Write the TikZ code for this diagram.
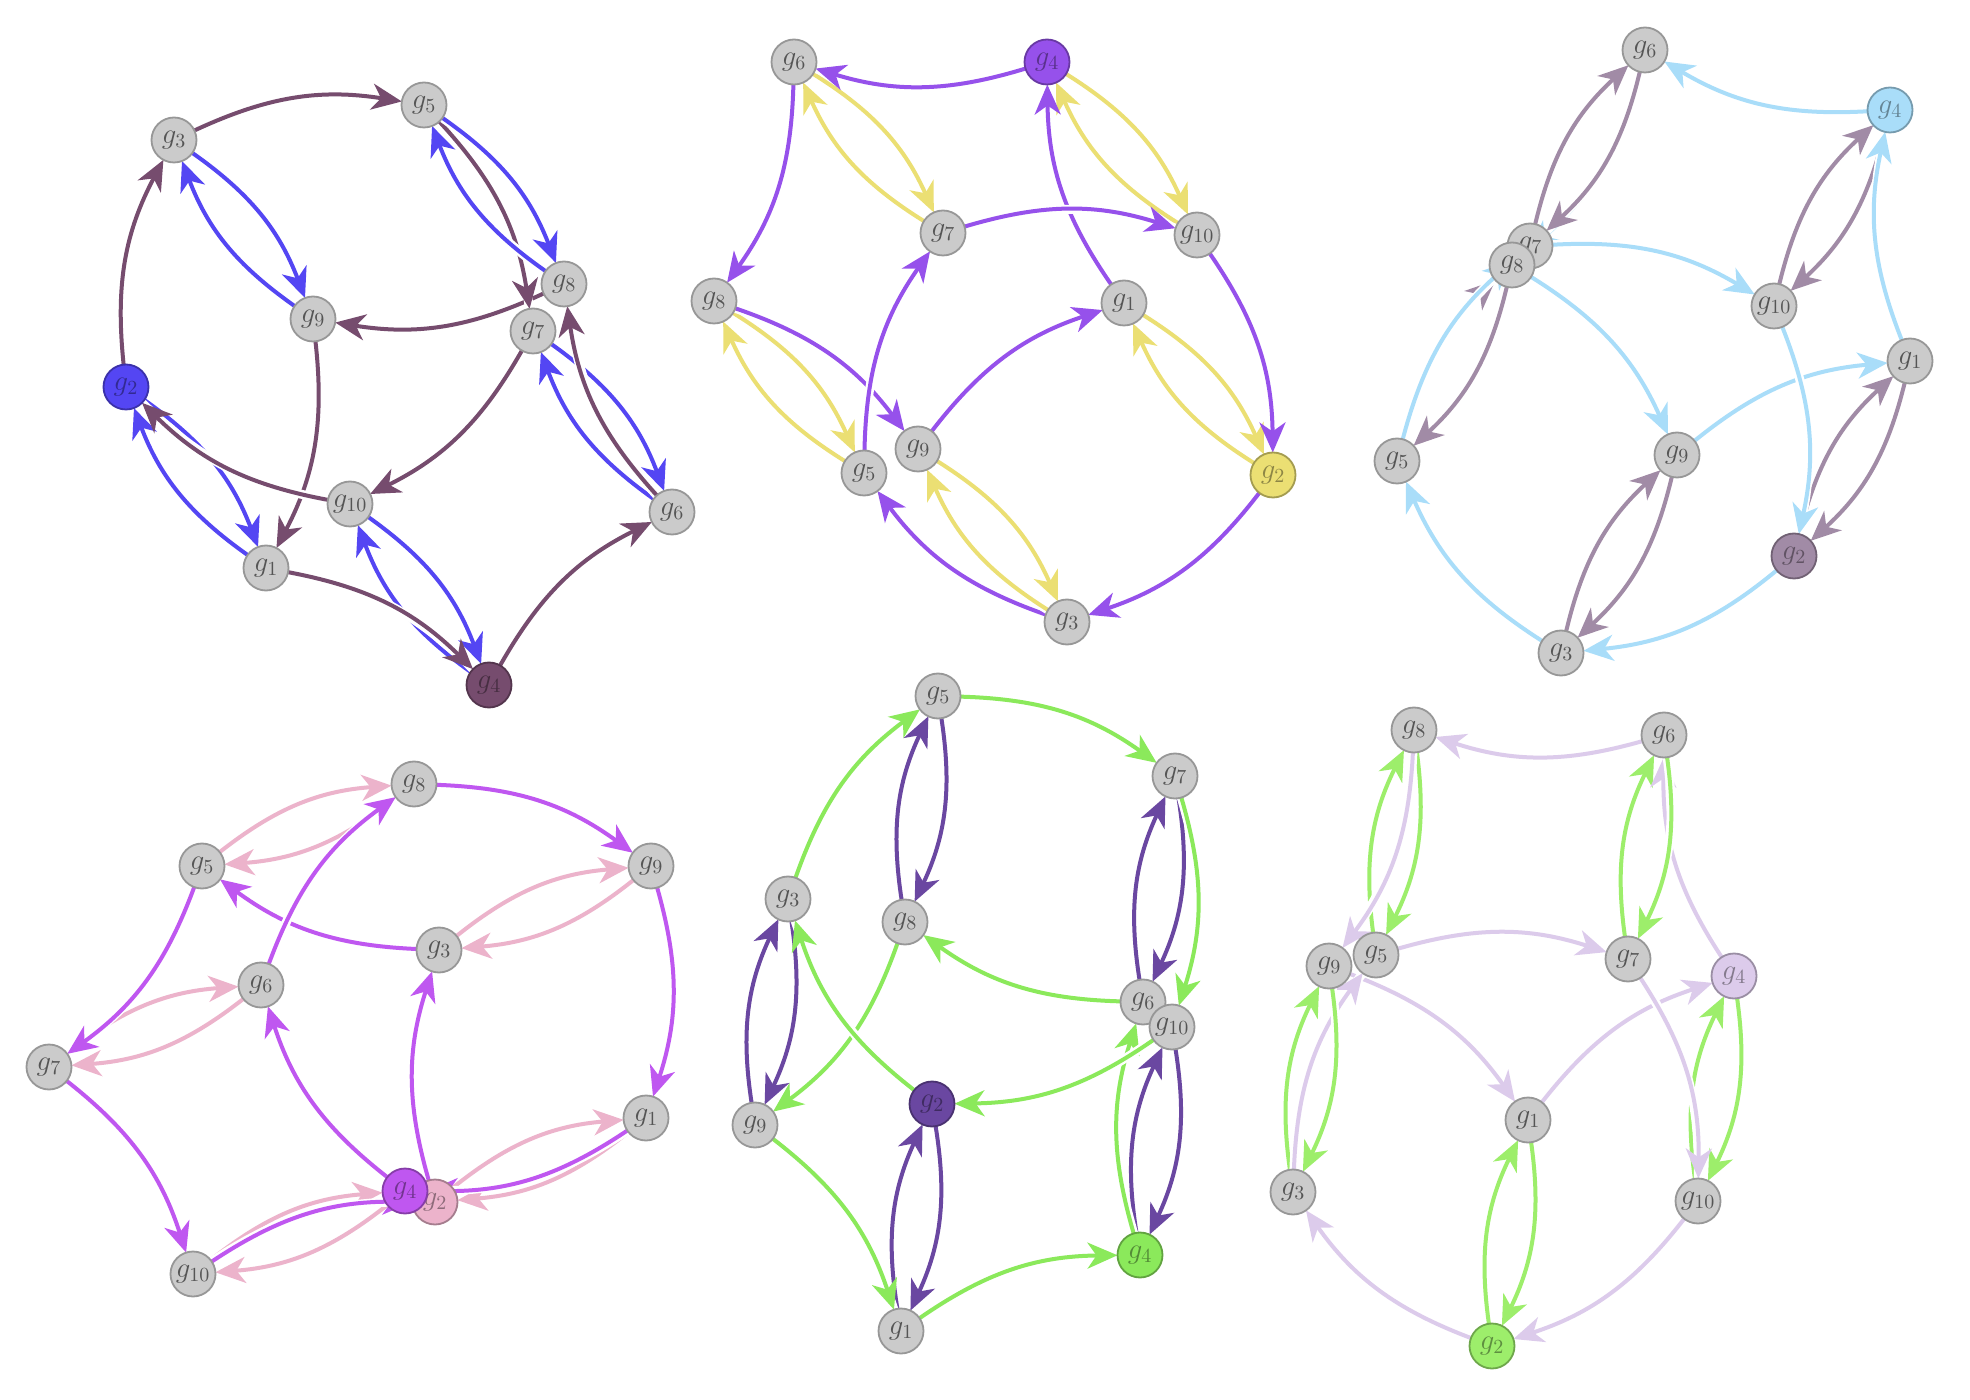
\documentclass[tikz,border=0pt]{standalone}
\usetikzlibrary{arrows.meta}
\pgfdeclarelayer{bg}
\pgfsetlayers{bg,main}
\definecolor{vfill}{HTML}{CBCBCB}
\definecolor{vdraw}{HTML}{979797}
\definecolor{vtext}{HTML}{555555}
\definecolor{Ra}{HTML}{764C6E}\definecolor{Sa}{HTML}{5446F3}
\definecolor{Rb}{HTML}{9651EB}\definecolor{Sb}{HTML}{EBDF73}
\definecolor{Rc}{HTML}{A9DDF9}\definecolor{Sc}{HTML}{A18BA6}
\definecolor{Rd}{HTML}{BF57F0}\definecolor{Sd}{HTML}{ECB3CB}
\definecolor{Re}{HTML}{8BE95B}\definecolor{Se}{HTML}{6A47A1}
\definecolor{Rf}{HTML}{DCCBEB}\definecolor{Sf}{HTML}{9DEE6B}
\tikzset{
  v/.style={circle, draw=vdraw, fill=vfill, line width=0.9pt, minimum size=22.5pt,
    inner sep=0pt, outer sep=0pt, text=vtext, font=\fontsize{14.4}{17}\selectfont},
  hl/.style={fill=#1, draw=#1!70!black, text=#1!60!black},
  e/.style={draw=#1, line width=2pt, bend left=17,
    -{Stealth[length=15pt,width=13pt,inset=4.5pt,fill=#1]},
    preaction={draw=white, line width=4.5pt, -}}
}
\newcommand\pe[3]{\draw[e=#1] (#2) to (#3);}
\begin{document}
\begin{tikzpicture}[x=0.5pt,y=-0.5pt]
\useasboundingbox (0,0) rectangle (1970,1400);
% ---------- panel 1
\node[v] (a1) at (266,568) {$g_{1}$};
\node[v,hl=Sa] (a2) at (126,387) {$g_{2}$};
\node[v] (a3) at (174,140) {$g_{3}$};
\node[v,hl=Ra] (a4) at (489,685) {$g_{4}$};
\node[v] (a5) at (424,105) {$g_{5}$};
\node[v] (a6) at (672,512) {$g_{6}$};
\node[v] (a7) at (533,331) {$g_{7}$};
\node[v] (a8) at (564,284) {$g_{8}$};
\node[v] (a9) at (313,319) {$g_{9}$};
\node[v] (a10) at (350,504) {$g_{10}$};
% ---------- panel 2
\node[v] (b1) at (1124,303) {$g_{1}$};
\node[v,hl=Sb] (b2) at (1273,475) {$g_{2}$};
\node[v] (b3) at (1067,622) {$g_{3}$};
\node[v,hl=Rb] (b4) at (1047,62) {$g_{4}$};
\node[v] (b5) at (864,473) {$g_{5}$};
\node[v] (b6) at (794,62) {$g_{6}$};
\node[v] (b7) at (943,233) {$g_{7}$};
\node[v] (b8) at (714,301) {$g_{8}$};
\node[v] (b9) at (918,449) {$g_{9}$};
\node[v] (b10) at (1197,235) {$g_{10}$};
% ---------- panel 3
\node[v] (c1) at (1910,361) {$g_{1}$};
\node[v,hl=Sc] (c2) at (1794,556) {$g_{2}$};
\node[v] (c3) at (1561,653) {$g_{3}$};
\node[v,hl=Rc] (c4) at (1890,110) {$g_{4}$};
\node[v] (c5) at (1397,461) {$g_{5}$};
\node[v] (c6) at (1645,50) {$g_{6}$};
\node[v] (c7) at (1530,246) {$g_{7}$};
\node[v] (c8) at (1512,265) {$g_{8}$};
\node[v] (c9) at (1677,455) {$g_{9}$};
\node[v] (c10) at (1774,306) {$g_{10}$};
% ---------- panel 4
\node[v] (d1) at (646,1118) {$g_{1}$};
\node[v,hl=Sd] (d2) at (435,1202) {$g_{2}$};
\node[v] (d3) at (439,950) {$g_{3}$};
\node[v,hl=Rd] (d4) at (405,1191) {$g_{4}$};
\node[v] (d5) at (202,866) {$g_{5}$};
\node[v] (d6) at (261,985) {$g_{6}$};
\node[v] (d7) at (49,1067) {$g_{7}$};
\node[v] (d8) at (414,784) {$g_{8}$};
\node[v] (d9) at (651,866) {$g_{9}$};
\node[v] (d10) at (193,1274) {$g_{10}$};
% ---------- panel 5
\node[v] (e1) at (901,1331) {$g_{1}$};
\node[v,hl=Se] (e2) at (932,1104) {$g_{2}$};
\node[v] (e3) at (788,899) {$g_{3}$};
\node[v,hl=Re] (e4) at (1140,1255) {$g_{4}$};
\node[v] (e5) at (938,696) {$g_{5}$};
\node[v] (e6) at (1143,1002) {$g_{6}$};
\node[v] (e7) at (1175,776) {$g_{7}$};
\node[v] (e8) at (905,922) {$g_{8}$};
\node[v] (e9) at (755,1125) {$g_{9}$};
\node[v] (e10) at (1172,1027) {$g_{10}$};
% ---------- panel 6
\node[v] (f1) at (1528,1120) {$g_{1}$};
\node[v,hl=Sf] (f2) at (1492,1346) {$g_{2}$};
\node[v] (f3) at (1293,1192) {$g_{3}$};
\node[v,hl=Rf] (f4) at (1734,976) {$g_{4}$};
\node[v] (f5) at (1376,955) {$g_{5}$};
\node[v] (f6) at (1664,735) {$g_{6}$};
\node[v] (f7) at (1628,959) {$g_{7}$};
\node[v] (f8) at (1414,730) {$g_{8}$};
\node[v] (f9) at (1329,966) {$g_{9}$};
\node[v] (f10) at (1698,1201) {$g_{10}$};
\begin{pgfonlayer}{bg}
% panel 1
\pe{Sa}{a1}{a2}\pe{Sa}{a2}{a1}\pe{Sa}{a3}{a9}\pe{Sa}{a9}{a3}
\pe{Sa}{a4}{a10}\pe{Sa}{a10}{a4}\pe{Sa}{a6}{a7}\pe{Sa}{a7}{a6}
\pe{Ra}{a1}{a4}\pe{Ra}{a4}{a6}\pe{Ra}{a6}{a8}\pe{Ra}{a8}{a9}\pe{Ra}{a9}{a1}
\pe{Ra}{a2}{a3}\pe{Ra}{a3}{a5}\pe{Ra}{a5}{a7}\pe{Ra}{a7}{a10}\pe{Ra}{a10}{a2}
\pe{Sa}{a5}{a8}\pe{Sa}{a8}{a5}
% panel 2
\pe{Sb}{b1}{b2}\pe{Sb}{b2}{b1}\pe{Sb}{b9}{b3}
\pe{Sb}{b4}{b10}\pe{Sb}{b10}{b4}\pe{Sb}{b6}{b7}\pe{Sb}{b7}{b6}
\pe{Sb}{b5}{b8}\pe{Sb}{b8}{b5}
\pe{Rb}{b1}{b4}\pe{Rb}{b4}{b6}\pe{Rb}{b6}{b8}\pe{Rb}{b8}{b9}\pe{Rb}{b9}{b1}
\pe{Rb}{b2}{b3}\pe{Rb}{b3}{b5}\pe{Rb}{b5}{b7}\pe{Rb}{b7}{b10}\pe{Rb}{b10}{b2}
\pe{Sb}{b3}{b9}
% panel 3
\pe{Rc}{c6}{c8}
\pe{Sc}{c1}{c2}\pe{Sc}{c2}{c1}\pe{Sc}{c3}{c9}\pe{Sc}{c9}{c3}
\pe{Sc}{c4}{c10}\pe{Sc}{c10}{c4}\pe{Sc}{c6}{c7}\pe{Sc}{c7}{c6}
\pe{Sc}{c5}{c8}\pe{Sc}{c8}{c5}
\pe{Rc}{c1}{c4}\pe{Rc}{c4}{c6}\pe{Rc}{c8}{c9}\pe{Rc}{c9}{c1}
\pe{Rc}{c2}{c3}\pe{Rc}{c3}{c5}\pe{Rc}{c5}{c7}\pe{Rc}{c7}{c10}\pe{Rc}{c10}{c2}
% panel 4
\pe{Sd}{d1}{d2}\pe{Sd}{d2}{d1}\pe{Sd}{d3}{d9}\pe{Sd}{d9}{d3}
\pe{Sd}{d4}{d10}\pe{Sd}{d10}{d4}\pe{Sd}{d6}{d7}\pe{Sd}{d7}{d6}
\pe{Sd}{d5}{d8}\pe{Sd}{d8}{d5}
\pe{Rd}{d2}{d3}\pe{Rd}{d3}{d5}\pe{Rd}{d5}{d7}\pe{Rd}{d7}{d10}\pe{Rd}{d10}{d2}
\pe{Rd}{d1}{d4}\pe{Rd}{d4}{d6}\pe{Rd}{d6}{d8}\pe{Rd}{d8}{d9}\pe{Rd}{d9}{d1}
% panel 5
\pe{Se}{e1}{e2}\pe{Se}{e2}{e1}\pe{Se}{e3}{e9}\pe{Se}{e9}{e3}
\pe{Se}{e4}{e10}\pe{Se}{e10}{e4}\pe{Se}{e6}{e7}\pe{Se}{e7}{e6}
\pe{Se}{e5}{e8}\pe{Se}{e8}{e5}
\pe{Re}{e1}{e4}\pe{Re}{e4}{e6}\pe{Re}{e6}{e8}\pe{Re}{e8}{e9}\pe{Re}{e9}{e1}
\pe{Re}{e2}{e3}\pe{Re}{e3}{e5}\pe{Re}{e5}{e7}\pe{Re}{e7}{e10}\pe{Re}{e10}{e2}
% panel 6
\pe{Sf}{f1}{f2}\pe{Sf}{f2}{f1}\pe{Sf}{f3}{f9}
\pe{Sf}{f4}{f10}\pe{Sf}{f10}{f4}\pe{Sf}{f7}{f6}
\pe{Sf}{f5}{f8}\pe{Sf}{f8}{f5}
\pe{Rf}{f1}{f4}\pe{Rf}{f4}{f6}\pe{Rf}{f6}{f8}\pe{Rf}{f8}{f9}\pe{Rf}{f9}{f1}
\pe{Rf}{f2}{f3}\pe{Rf}{f3}{f5}\pe{Rf}{f5}{f7}\pe{Rf}{f7}{f10}\pe{Rf}{f10}{f2}
\pe{Sf}{f9}{f3}\pe{Sf}{f6}{f7}
\end{pgfonlayer}
\end{tikzpicture}
\end{document}
